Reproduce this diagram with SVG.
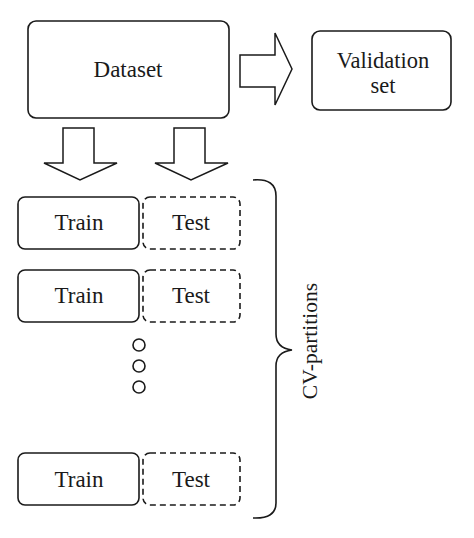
<svg xmlns="http://www.w3.org/2000/svg" width="474" height="538" viewBox="0 0 474 538">
<style>
.box{fill:#fff;stroke:#1a1a1a;stroke-width:1.6}
.dash{fill:#fff;stroke:#1a1a1a;stroke-width:1.6;stroke-dasharray:6 4}
.arr{fill:#fff;stroke:#1a1a1a;stroke-width:1.5;stroke-linejoin:miter}
.t{font-family:"Liberation Serif",serif;font-size:23px;fill:#1a1a1a;text-anchor:middle}
.dot{fill:#fff;stroke:#1a1a1a;stroke-width:1.6}
</style>
<rect width="474" height="538" fill="#fff"/>
<g id="dataset">
<rect class="box" x="28" y="21" width="201" height="97" rx="8"/>
<text class="t" x="128" y="77">Dataset</text>
</g>
<g id="validation">
<rect class="box" x="312" y="31" width="139" height="79" rx="8"/>
<text class="t" style="font-size:22.5px" x="383" y="68">Validation</text>
<text class="t" style="font-size:22.5px" x="383" y="93">set</text>
</g>
<g id="train1">
<rect class="box" x="18" y="197" width="121" height="52" rx="7"/>
<text class="t" x="79" y="230">Train</text>
</g>
<g id="test1">
<rect class="dash" x="143" y="197" width="97" height="52" rx="7"/>
<text class="t" x="191" y="230">Test</text>
</g>
<g id="train2">
<rect class="box" x="18" y="270" width="121" height="52" rx="7"/>
<text class="t" x="79" y="303">Train</text>
</g>
<g id="test2">
<rect class="dash" x="143" y="270" width="97" height="52" rx="7"/>
<text class="t" x="191" y="303">Test</text>
</g>
<g id="train3">
<rect class="box" x="18" y="453" width="121" height="52" rx="7"/>
<text class="t" x="79" y="487">Train</text>
</g>
<g id="test3">
<rect class="dash" x="143" y="453" width="97" height="52" rx="7"/>
<text class="t" x="191" y="487">Test</text>
</g>
<g id="ellipsis">
<circle class="dot" cx="139" cy="345" r="6"/>
<circle class="dot" cx="139" cy="366" r="6"/>
<circle class="dot" cx="139" cy="387" r="6"/>
</g>
<g id="connectors">
<path class="arr" d="M240 55 H275 V33 L292 69 L275 105 V87 H240 Z"/>
<path class="arr" d="M63 128 H94 V163 H117 L80 180 L44 163 H63 Z"/>
<path class="arr" d="M174 128 H205 V163 H228 L191 180 L155 163 H174 Z"/>
</g>
<g id="brace">
<path d="M253 180 Q276 178 276 196 V334 Q276 348 292 350 Q276 352 276 366 V503 Q276 519 253 518" fill="none" stroke="#1a1a1a" stroke-width="1.6"/>
<text class="t" style="font-size:21.5px" transform="translate(317 341) rotate(-90)">CV-partitions</text>
</g>
</svg>
